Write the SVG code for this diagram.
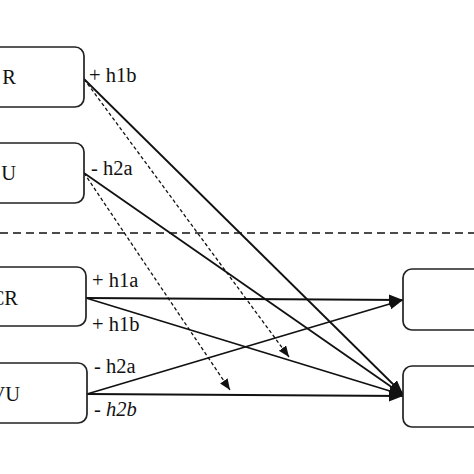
<svg xmlns="http://www.w3.org/2000/svg" width="474" height="474" viewBox="0 0 474 474">
<defs>
<style>
.box{fill:#fff;stroke:#222;stroke-width:1.7}
.t{font-family:"Liberation Serif","Times New Roman",serif;font-size:20.5px;fill:#111}
.c{stroke:#111;stroke-width:1.8;fill:none}
.d{stroke:#111;stroke-width:1.3;fill:none;stroke-dasharray:3.5 2.5}
.sep{stroke:#111;stroke-width:1.6;stroke-dasharray:8 5}
</style>
<marker id="ah" markerUnits="userSpaceOnUse" markerWidth="15" markerHeight="12" refX="14" refY="5.5" orient="auto">
<path d="M0,0 L14,5.5 L0,11 z" fill="#111"/>
</marker>
<marker id="ahs" markerUnits="userSpaceOnUse" markerWidth="12" markerHeight="10" refX="11" refY="4.5" orient="auto">
<path d="M0,0 L11,4.5 L0,9 z" fill="#111"/>
</marker>
</defs>
<rect width="474" height="474" fill="#fff"/>
<line class="sep" x1="0" y1="233" x2="474" y2="233"/>
<g id="connectors">
<line class="c" x1="84" y1="79" x2="403" y2="394" marker-end="url(#ah)"/>
<line class="d" x1="84" y1="79" x2="289" y2="357" marker-end="url(#ahs)"/>
<line class="c" x1="84" y1="173" x2="403" y2="395" marker-end="url(#ah)"/>
<line class="d" x1="84" y1="173" x2="230" y2="390" marker-end="url(#ahs)"/>
<line class="c" x1="86" y1="298" x2="403" y2="300" marker-end="url(#ah)"/>
<line class="c" x1="86" y1="298" x2="403" y2="395" marker-end="url(#ah)"/>
<line class="c" x1="87" y1="394" x2="403" y2="300" marker-end="url(#ah)"/>
<line class="c" x1="87" y1="394" x2="403" y2="396" marker-end="url(#ah)"/>
</g>
<g id="n1"><rect class="box" x="-100" y="47" width="184" height="60" rx="9"/><text class="t" x="16" y="84" text-anchor="end">R</text></g>
<g id="n2"><rect class="box" x="-100" y="143" width="184" height="60" rx="9"/><text class="t" x="16" y="180" text-anchor="end">U</text></g>
<g id="n3"><rect class="box" x="-100" y="267" width="186" height="59" rx="9"/><text class="t" x="18" y="305" text-anchor="end">CR</text></g>
<g id="n4"><rect class="box" x="-100" y="363" width="187" height="60" rx="9"/><text class="t" x="20" y="401" text-anchor="end">VU</text></g>
<g id="n5"><rect class="box" x="403" y="269" width="160" height="61" rx="9"/></g>
<g id="n6"><rect class="box" x="403" y="366" width="160" height="61" rx="9"/></g>
<g id="labels">
<text class="t" x="89" y="82">+ h1b</text>
<text class="t" x="91" y="175">- h2a</text>
<text class="t" x="92" y="287">+ h1a</text>
<text class="t" x="92" y="331">+ h1b</text>
<text class="t" x="94" y="373">- h2a</text>
<text class="t" x="94" y="416">- <tspan font-style="italic">h2b</tspan></text>
</g>
</svg>
